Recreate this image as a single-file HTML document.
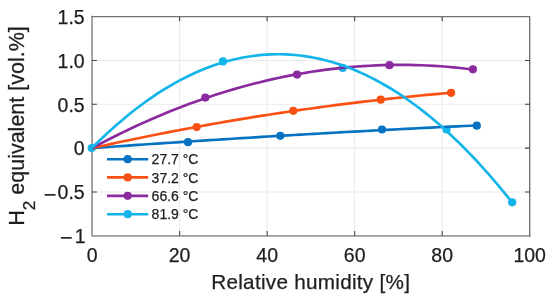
<!DOCTYPE html><html><head><meta charset="utf-8"><title>H2 equivalent vs relative humidity</title>
<style>html,body{margin:0;padding:0;background:#fff}svg{display:block}text{font-family:"Liberation Sans",Arial,Helvetica,sans-serif;fill:#1e1e1e;stroke:#1e1e1e;stroke-width:0.25px}</style></head><body>
<svg width="550" height="302" viewBox="0 0 550 302">
<rect width="550" height="302" fill="#fff"/>
<path d="M179.62 16.65V235.80M267.14 16.65V235.80M354.66 16.65V235.80M442.18 16.65V235.80M92.10 191.97H529.70M92.10 148.14H529.70M92.10 104.31H529.70M92.10 60.48H529.70" stroke="#eaeaea" stroke-width="1" fill="none"/>
<path d="M92.10 16.65V235.80H529.70" fill="none" stroke="#9a9a9a" stroke-width="1.8" stroke-linecap="square"/>
<path d="M92.10 16.65H529.70V235.80" fill="none" stroke="#747474" stroke-width="1.4" stroke-linecap="square"/>
<path d="M179.62 235.80v-4.70M179.62 16.65v4.70M267.14 235.80v-4.70M267.14 16.65v4.70M354.66 235.80v-4.70M354.66 16.65v4.70M442.18 235.80v-4.70M442.18 16.65v4.70M92.10 191.97h4.70M529.70 191.97h-4.70M92.10 148.14h4.70M529.70 148.14h-4.70M92.10 104.31h4.70M529.70 104.31h-4.70M92.10 60.48h4.70M529.70 60.48h-4.70" stroke="#3e3e3e" stroke-width="1.05" fill="none"/>
<circle cx="188.0" cy="142.2" r="4.1" fill="#0573C2"/>
<circle cx="280.3" cy="135.8" r="4.1" fill="#0573C2"/>
<circle cx="382.0" cy="129.5" r="4.1" fill="#0573C2"/>
<circle cx="476.8" cy="125.7" r="4.1" fill="#0573C2"/>
<circle cx="196.7" cy="127.1" r="4.1" fill="#FA5014"/>
<circle cx="293.3" cy="110.8" r="4.1" fill="#FA5014"/>
<circle cx="380.7" cy="99.7" r="4.1" fill="#FA5014"/>
<circle cx="451.1" cy="92.8" r="4.1" fill="#FA5014"/>
<circle cx="205.3" cy="97.6" r="4.1" fill="#8B2A9E"/>
<circle cx="297.1" cy="74.6" r="4.1" fill="#8B2A9E"/>
<circle cx="389.5" cy="65.2" r="4.1" fill="#8B2A9E"/>
<circle cx="472.9" cy="69.3" r="4.1" fill="#8B2A9E"/>
<circle cx="91.7" cy="148.0" r="4.1" fill="#13B4EA"/>
<circle cx="223.0" cy="61.4" r="4.1" fill="#13B4EA"/>
<circle cx="342.7" cy="67.9" r="4.1" fill="#13B4EA"/>
<circle cx="446.6" cy="129.5" r="4.1" fill="#13B4EA"/>
<circle cx="512.2" cy="202.3" r="4.1" fill="#13B4EA"/>
<path d="M92.10 148.14 L98.62 147.67 L105.14 147.21 L111.66 146.75 L118.18 146.30 L124.70 145.84 L131.22 145.39 L137.74 144.94 L144.26 144.50 L150.78 144.05 L157.30 143.61 L163.82 143.17 L170.34 142.74 L176.86 142.31 L183.38 141.88 L189.91 141.45 L196.43 141.03 L202.95 140.60 L209.47 140.19 L215.99 139.77 L222.51 139.36 L229.03 138.95 L235.55 138.54 L242.07 138.13 L248.59 137.73 L255.11 137.33 L261.63 136.94 L268.15 136.54 L274.67 136.15 L281.19 135.76 L287.71 135.38 L294.23 135.00 L300.75 134.62 L307.27 134.24 L313.79 133.86 L320.31 133.49 L326.83 133.12 L333.35 132.76 L339.87 132.39 L346.39 132.03 L352.91 131.67 L359.43 131.32 L365.95 130.96 L372.47 130.61 L378.99 130.27 L385.52 129.92 L392.04 129.58 L398.56 129.24 L405.08 128.91 L411.60 128.57 L418.12 128.24 L424.64 127.91 L431.16 127.59 L437.68 127.27 L444.20 126.95 L450.72 126.63 L457.24 126.32 L463.76 126.00 L470.28 125.70 L476.80 125.39" stroke="#0573C2" stroke-width="2.65" fill="none" stroke-linejoin="round"/>
<path d="M92.10 148.14 L98.18 146.79 L104.27 145.45 L110.35 144.13 L116.44 142.82 L122.52 141.52 L128.61 140.24 L134.69 138.97 L140.78 137.72 L146.86 136.48 L152.95 135.26 L159.03 134.05 L165.12 132.85 L171.20 131.67 L177.29 130.50 L183.37 129.35 L189.46 128.21 L195.54 127.09 L201.63 125.98 L207.71 124.88 L213.79 123.80 L219.88 122.74 L225.96 121.68 L232.05 120.64 L238.13 119.62 L244.22 118.61 L250.30 117.61 L256.39 116.63 L262.47 115.67 L268.56 114.71 L274.64 113.77 L280.73 112.85 L286.81 111.94 L292.90 111.04 L298.98 110.16 L305.07 109.29 L311.15 108.44 L317.24 107.60 L323.32 106.78 L329.41 105.97 L335.49 105.17 L341.57 104.39 L347.66 103.62 L353.74 102.87 L359.83 102.13 L365.91 101.41 L372.00 100.70 L378.08 100.00 L384.17 99.32 L390.25 98.65 L396.34 98.00 L402.42 97.36 L408.51 96.73 L414.59 96.12 L420.68 95.53 L426.76 94.94 L432.85 94.38 L438.93 93.82 L445.02 93.28 L451.10 92.76" stroke="#FA5014" stroke-width="2.65" fill="none" stroke-linejoin="round"/>
<path d="M92.10 148.14 L98.55 144.69 L105.01 141.31 L111.46 138.01 L117.92 134.78 L124.37 131.62 L130.83 128.54 L137.28 125.53 L143.73 122.59 L150.19 119.72 L156.64 116.93 L163.10 114.21 L169.55 111.56 L176.01 108.99 L182.46 106.49 L188.91 104.06 L195.37 101.70 L201.82 99.42 L208.28 97.21 L214.73 95.08 L221.18 93.01 L227.64 91.02 L234.09 89.11 L240.55 87.26 L247.00 85.49 L253.46 83.79 L259.91 82.17 L266.36 80.62 L272.82 79.14 L279.27 77.73 L285.73 76.40 L292.18 75.14 L298.64 73.95 L305.09 72.84 L311.54 71.80 L318.00 70.83 L324.45 69.93 L330.91 69.11 L337.36 68.36 L343.82 67.68 L350.27 67.08 L356.72 66.55 L363.18 66.09 L369.63 65.71 L376.09 65.40 L382.54 65.16 L388.99 64.99 L395.45 64.90 L401.90 64.88 L408.36 64.94 L414.81 65.06 L421.27 65.26 L427.72 65.53 L434.17 65.88 L440.63 66.30 L447.08 66.79 L453.54 67.35 L459.99 67.99 L466.45 68.70 L472.90 69.49" stroke="#8B2A9E" stroke-width="2.65" fill="none" stroke-linejoin="round"/>
<path d="M92.00 148.00 L96.72 143.30 L101.44 138.73 L106.16 134.27 L110.89 129.93 L115.61 125.72 L120.33 121.63 L125.05 117.65 L129.77 113.80 L134.49 110.07 L139.21 106.46 L143.93 102.97 L148.66 99.60 L153.38 96.35 L158.10 93.22 L162.82 90.21 L167.54 87.32 L172.26 84.56 L176.98 81.91 L181.71 79.39 L186.43 76.98 L191.15 74.70 L195.87 72.54 L200.59 70.49 L205.31 68.57 L210.03 66.77 L214.76 65.09 L219.48 63.53 L224.20 62.09 L228.92 60.77 L233.64 59.58 L238.36 58.50 L243.08 57.54 L247.80 56.71 L252.53 55.99 L257.25 55.40 L261.97 54.93 L266.69 54.57 L271.41 54.34 L276.13 54.23 L280.85 54.24 L285.58 54.37 L290.30 54.62 L295.02 54.99 L299.74 55.48 L304.46 56.10 L309.18 56.83 L313.90 57.68 L318.62 58.66 L323.35 59.75 L328.07 60.97 L332.79 62.31 L337.51 63.76 L342.23 65.34 L346.95 67.04 L351.67 68.86 L356.40 70.80 L361.12 72.86 L365.84 75.04 L370.56 77.35 L375.28 79.77 L380.00 82.31 L384.72 84.98 L389.44 87.76 L394.17 90.67 L398.89 93.69 L403.61 96.84 L408.33 100.11 L413.05 103.50 L417.77 107.01 L422.49 110.64 L427.22 114.39 L431.94 118.26 L436.66 122.25 L441.38 126.36 L446.10 130.60 L450.82 134.95 L455.54 139.43 L460.27 144.02 L464.99 148.74 L469.71 153.57 L474.43 158.53 L479.15 163.61 L483.87 168.81 L488.59 174.13 L493.31 179.57 L498.04 185.13 L502.76 190.81 L507.48 196.61 L512.20 202.53" stroke="#13B4EA" stroke-width="2.65" fill="none" stroke-linejoin="round"/>
<text x="92.10" y="262.2" font-size="19.5" text-anchor="middle">0</text>
<text x="179.62" y="262.2" font-size="19.5" text-anchor="middle">20</text>
<text x="267.14" y="262.2" font-size="19.5" text-anchor="middle">40</text>
<text x="354.66" y="262.2" font-size="19.5" text-anchor="middle">60</text>
<text x="442.18" y="262.2" font-size="19.5" text-anchor="middle">80</text>
<text x="529.70" y="262.2" font-size="19.5" text-anchor="middle">100</text>
<text x="85.7" y="243.10" font-size="19.5" text-anchor="end">1</text>
<text x="72.70" y="244.65" font-size="21.6" text-anchor="end">−</text>
<text x="84.7" y="199.27" font-size="19.5" text-anchor="end">0.5</text>
<text x="56.30" y="201.57" font-size="21.6" text-anchor="end">−</text>
<text x="84.7" y="155.44" font-size="19.5" text-anchor="end">0</text>
<text x="84.7" y="111.61" font-size="19.5" text-anchor="end">0.5</text>
<text x="84.7" y="67.78" font-size="19.5" text-anchor="end">1.0</text>
<text x="84.7" y="23.95" font-size="19.5" text-anchor="end">1.5</text>
<text x="310.75" y="289.1" font-size="20.7" letter-spacing="0.28" text-anchor="middle">Relative humidity [%]</text>
<text transform="translate(23.8,225.8) rotate(-90)" font-size="21.5">H<tspan font-size="17.2" dy="11.2">2</tspan><tspan dy="-11.2"> equivalent [vol.%]</tspan></text>
<path d="M107 159.2H148.2" stroke="#0573C2" stroke-width="2.65" fill="none"/>
<circle cx="127.7" cy="159.2" r="4.1" fill="#0573C2"/>
<text x="151.6" y="164.3" font-size="14">27.7 °C</text>
<path d="M107 177.4H148.2" stroke="#FA5014" stroke-width="2.65" fill="none"/>
<circle cx="127.7" cy="177.4" r="4.1" fill="#FA5014"/>
<text x="151.6" y="182.6" font-size="14">37.2 °C</text>
<path d="M107 195.8H148.2" stroke="#8B2A9E" stroke-width="2.65" fill="none"/>
<circle cx="127.7" cy="195.8" r="4.1" fill="#8B2A9E"/>
<text x="151.6" y="200.9" font-size="14">66.6 °C</text>
<path d="M107 214.2H148.2" stroke="#13B4EA" stroke-width="2.65" fill="none"/>
<circle cx="127.7" cy="214.2" r="4.1" fill="#13B4EA"/>
<text x="151.6" y="219.4" font-size="14">81.9 °C</text>
</svg></body></html>
